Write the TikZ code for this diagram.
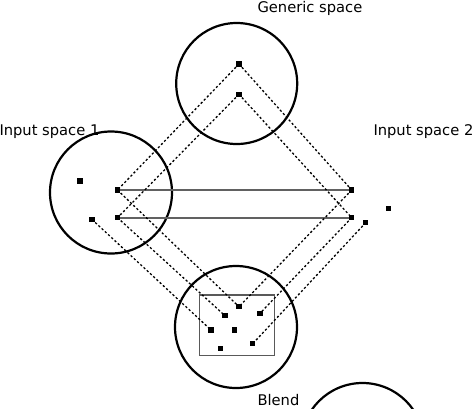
\documentclass[tikz,border=0pt]{standalone}
\usepackage{fontspec}
\setmainfont{DejaVu Sans}
\begin{document}
\begin{tikzpicture}[x=1pt,y=-1pt,
  pt/.style={rectangle,fill=black,inner sep=0pt,minimum size=5pt},
  spacecircle/.style={circle,draw=black,line width=2.2pt,inner sep=0pt,minimum size=122pt},
  proj/.style={draw=black,line width=1.3pt,dash pattern=on 2.2pt off 2.2pt},
  mapline/.style={draw=black!62,line width=1.6pt},
  lbl/.style={inner sep=0pt,anchor=base west,font=\fontsize{14.7}{17}\selectfont}]
\clip (0,0) rectangle (474,408);
% spaces
\node[spacecircle,minimum size=121pt] (generic) at (236.7,83.5) {};
\node[spacecircle] (input1) at (111,192.5) {};
\node[spacecircle] (blend) at (236,327) {};
\node[spacecircle,minimum size=123pt] (input2) at (362.5,444.5) {};
\node[draw=black!65,line width=1.2pt,minimum width=75pt,minimum height=60.7pt,inner sep=0pt] (emergent) at (236.8,325.35) {};
% labels
\node[lbl] (lgeneric) at (257.3,12.5) {Generic space};
\node[lbl] (linput1) at (-0.7,135) {Input space 1};
\node[lbl] (linput2) at (373.3,135) {Input space 2};
\node[lbl] (lblend) at (257.3,405.3) {Blend};
% elements
\node[pt] (ga) at (239,64) {};
\node[pt] (gb) at (239,94.3) {};
\node[pt] (i1a) at (80,181) {};
\node[pt] (i1b) at (117.5,190) {};
\node[pt] (i1c) at (92,219.5) {};
\node[pt] (i1d) at (117.5,217.7) {};
\node[pt] (i2a) at (351.7,190) {};
\node[pt] (i2b) at (351.7,217.7) {};
\node[pt] (i2c) at (388.7,208.5) {};
\node[pt] (i2d) at (365.7,222.7) {};
\node[pt] (ba) at (239,306.7) {};
\node[pt] (bb) at (225,315.7) {};
\node[pt] (bc) at (260,313.3) {};
\node[pt] (bd) at (211,330) {};
\node[pt] (be) at (234.3,330) {};
\node[pt] (bf) at (220.3,348.7) {};
\node[pt] (bg) at (252.7,343.7) {};
% cross-space mapping
\draw[mapline] (i1b.center) -- (i2a.center);
\draw[mapline] (i1d.center) -- (i2b.center);
% generic to inputs
\draw[proj] (ga.center) -- (i1b.center);
\draw[proj] (ga.center) -- (i2a.center);
\draw[proj] (gb.center) -- (i1d.center);
\draw[proj] (gb.center) -- (i2b.center);
% inputs to blend
\draw[proj] (i1b.center) -- (ba.center);
\draw[proj] (i1d.center) -- (bb.center);
\draw[proj] (i1c.center) -- (bd.center);
\draw[proj] (i2a.center) -- (ba.center);
\draw[proj] (i2b.center) -- (bc.center);
\draw[proj] (i2d.center) -- (bg.center);
% redraw points on top
\foreach \n in {ga,gb,i1a,i1b,i1c,i1d,i2a,i2b,i2c,i2d,ba,bb,bc,bd,be,bf,bg}
  \fill (\n.south west) rectangle (\n.north east);
\end{tikzpicture}
\end{document}
